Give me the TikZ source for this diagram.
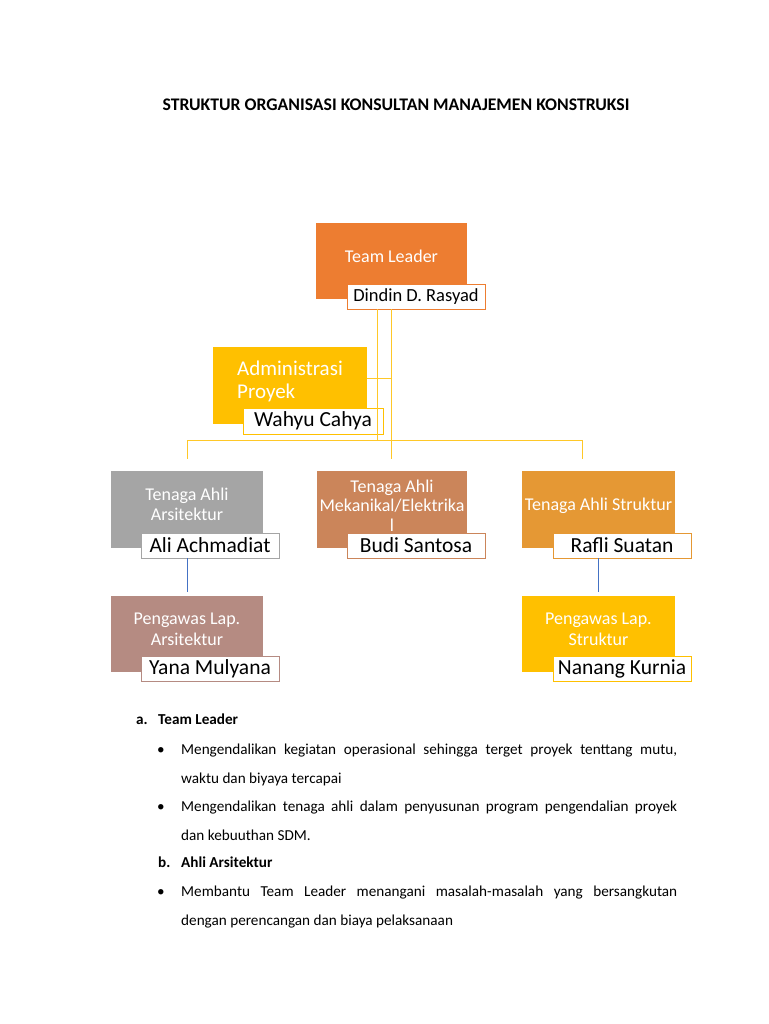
\documentclass[tikz,border=0pt]{standalone}
\usepackage{fontspec}
\setmainfont{Carlito}
\definecolor{cTL}{RGB}{237,125,49}
\definecolor{cAdm}{RGB}{255,192,0}
\definecolor{cArs}{RGB}{165,165,165}
\definecolor{cMek}{RGB}{203,133,90}
\definecolor{cStr}{RGB}{229,152,52}
\definecolor{cPArs}{RGB}{181,139,130}
\definecolor{cPStr}{RGB}{255,192,0}
\definecolor{cLine}{RGB}{255,200,40}
\definecolor{cBlue}{RGB}{68,114,196}
\begin{document}
\begin{tikzpicture}[x=1pt,y=-1pt,
  box/.style={inner sep=0pt, draw=none},
  lbl/.style={text=white, align=center, inner sep=0pt, font=\fontsize{18}{20.5}\selectfont},
  namebox/.style={draw, fill=white, line width=0.8pt, minimum width=138pt, minimum height=25pt, inner sep=0pt, font=\fontsize{21.5}{22}\selectfont},
  yl/.style={draw=cLine, line width=0.9pt},
  bl/.style={draw=cBlue, line width=0.7pt},
  body/.style={anchor=base west, inner sep=0pt, font=\fontsize{15.2}{17}\selectfont},
  bodyb/.style={anchor=base west, inner sep=0pt, font=\fontsize{15.2}{17}\selectfont\bfseries},
  bul/.style={anchor=base, inner sep=0pt, font=\fontsize{15.2}{17}\selectfont}
]
\useasboundingbox[fill=white] (0,0) rectangle (768,1024);

% title
\node[anchor=base, inner sep=0pt, font=\fontsize{17.7}{19}\selectfont\bfseries] (title) at (396,111) {STRUKTUR ORGANISASI KONSULTAN MANAJEMEN KONSTRUKSI};

% boxes
\node[box, fill=cTL, minimum width=151pt, minimum height=76pt] (tl) at (391.5,261) {};
\node[lbl] (tlt) at (391.5,256) {Team Leader};
\node[box, fill=cAdm, minimum width=154pt, minimum height=77pt] (adm) at (290,385.5) {};
\node[lbl, anchor=west, align=left, font=\fontsize{21}{23}\selectfont] (admt) at (237,381.5) {Administrasi\\Proyek};

\node[box, fill=cArs, minimum width=152pt, minimum height=77pt] (ars) at (187,509.5) {};
\node[lbl] (arst) at (187,504.5) {Tenaga Ahli\\Arsitektur};
\node[box, fill=cMek, minimum width=150pt, minimum height=77pt] (mek) at (392,509.5) {};
\node[lbl, font=\fontsize{18}{19.5}\selectfont] (mekt) at (392,505.5) {Tenaga Ahli\\Mekanikal/Elektrika\\l};
\node[box, fill=cStr, minimum width=153pt, minimum height=77pt] (str) at (598.5,509.5) {};
\node[lbl] (strt) at (598.5,506) {Tenaga Ahli Struktur};

\node[box, fill=cPArs, minimum width=152pt, minimum height=76pt] (pars) at (187,634) {};
\node[lbl] (parst) at (187,629.5) {Pengawas Lap.\\Arsitektur};
\node[box, fill=cPStr, minimum width=153pt, minimum height=76pt] (pstr) at (598.5,634) {};
\node[lbl] (pstrt) at (598.5,629.5) {Pengawas Lap.\\Struktur};

% connectors
\coordinate (hL) at (187,440);
\coordinate (hM) at (391,440);
\coordinate (hR) at (582,440);
\coordinate (a1) at (377,440);
\coordinate (am) at (391,378);

% name boxes
\node[namebox, draw=cTL, font=\fontsize{18.5}{20}\selectfont] (tln) at (416,296.5) {Dindin D. Rasyad};
\node[namebox, draw=cAdm, minimum width=140pt, minimum height=26pt] (admn) at (313,421) {Wahyu Cahya};
\node[namebox, draw=cArs] (arsn) at (210,545.5) {Ali Achmadiat};
\node[namebox, draw=cMek] (mekn) at (416,545.5) {Budi Santosa};
\node[namebox, draw=cStr] (strn) at (622,545.5) {Rafli Suatan};
\node[namebox, draw=cPArs] (parsn) at (210,669) {Yana Mulyana};
\node[namebox, draw=cPStr] (pstrn) at (622,669) {Nanang Kurnia};

\draw[yl] (tln.south -| hM) -- (hM);
\draw[yl, shorten >=12pt] (hM) -- (mek.north -| hM);
\draw[yl] (tln.south -| a1) -- (a1);
\draw[yl] (adm.east |- am) -- (am);
\draw[yl] (hL) -- (hR);
\draw[yl, shorten >=12pt] (hL) -- (ars.north);
\draw[yl, shorten >=12pt] (hR) -- (str.north -| hR);
\draw[bl, shorten >=4pt] (arsn.south -| ars.south) -- (pars.north);
\draw[bl, shorten >=4pt] (strn.south -| str.south) -- (pstr.north);

% text
\node[bodyb] (la) at (136,724) {a.};
\node[bodyb] (lat) at (158,724) {Team Leader};
\node[bul] (b1) at (161,754) {•};
\node[body] (t1) at (181,754) {\makebox[496pt][s]{Mengendalikan kegiatan operasional sehingga terget proyek tenttang mutu,}};
\node[body] (t2) at (181,783) {waktu dan biyaya tercapai};
\node[bul] (b2) at (161,811) {•};
\node[body] (t3) at (181,811) {\makebox[496pt][s]{Mengendalikan tenaga ahli dalam penyusunan program pengendalian proyek}};
\node[body] (t4) at (181,840) {dan kebuuthan SDM.};
\node[bodyb] (lb) at (158,867) {b.};
\node[bodyb] (lbt) at (181,867) {Ahli Arsitektur};
\node[bul] (b3) at (161,896) {•};
\node[body] (t5) at (181,896) {\makebox[496pt][s]{Membantu Team Leader menangani masalah-masalah yang bersangkutan}};
\node[body] (t6) at (181,925) {dengan perencangan dan biaya pelaksanaan};
\end{tikzpicture}
\end{document}
